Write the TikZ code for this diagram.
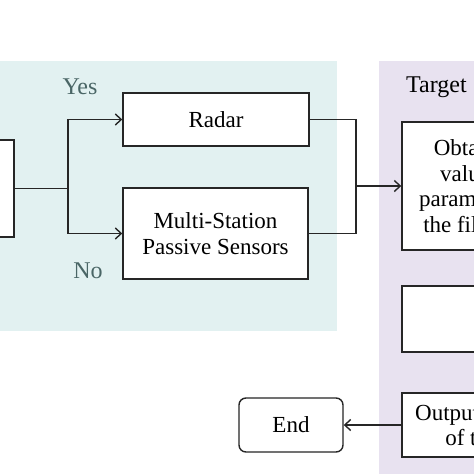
\documentclass[tikz,border=0pt]{standalone}
\usepackage{fontspec}
\setmainfont{Liberation Serif}
\usetikzlibrary{arrows.meta}
\definecolor{cyanbg}{HTML}{E2F1F1}
\definecolor{purplebg}{HTML}{E8E2F0}
\definecolor{labelcol}{HTML}{4A6666}
\tikzset{
  box/.style={draw=black!85, line width=1.4pt, fill=white, inner sep=0pt, align=center},
  conn/.style={draw=black!85, line width=1.4pt},
  arr/.style={conn, -{Straight Barb[length=6pt,width=11pt,line width=1.4pt]}},
  lab/.style={text=labelcol, inner sep=0pt}
}
\begin{document}
\begin{tikzpicture}[x=1pt,y=-1pt,font=\fontsize{23}{25.5}\selectfont]
\useasboundingbox (0,0) rectangle (474,474);
\clip (0,0) rectangle (474,474);
\fill[white] (0,0) rectangle (474,474);
% background regions
\fill[cyanbg] (0,61) rectangle (337,331);
\fill[purplebg] (379,61) rectangle (490,490);
% nodes
\node[box, minimum width=100, minimum height=97] (start) at (-36,188.5) {};
\node[box, minimum width=186, minimum height=53] (radar) at (216,119.5) {Radar};
\node[box, minimum width=185, minimum height=91] (msps) at (215.5,233.5) {Multi-Station\\Passive Sensors};
\node[box, minimum width=160, minimum height=128] (obtain) at (482,186) {Obtain the\\values of\\parameters of\\the filter and};
\node[box, minimum width=160, minimum height=66] (mid) at (482,319) {};
\node[box, minimum width=190, minimum height=64] (output) at (497,425) {Output the results\\of the filter};
\node[box, rounded corners=7pt, minimum width=104, minimum height=54] (end) at (291,425) {End};
\node[lab, font=\fontsize{24}{26}\selectfont] (yes) at (80,87) {Yes};
\node[lab, font=\fontsize{24}{26}\selectfont] (no) at (88,271) {No};
\node[anchor=west, inner sep=0pt, font=\fontsize{24}{26}\selectfont] (target) at (406,87) {Target};
% connectors
\coordinate (j1) at (68,188.5);
\coordinate (j2) at (356,186);
\draw[conn] (start.east) -- (j1);
\draw[arr] (j1) |- (radar.west);
\draw[arr] (j1) |- (msps.west);
\draw[conn] (radar.east) -| (j2) |- (msps.east);
\draw[arr] (j2) -- (obtain.west);
\draw[arr] (output.west) -- (end.east);
\end{tikzpicture}
\end{document}
